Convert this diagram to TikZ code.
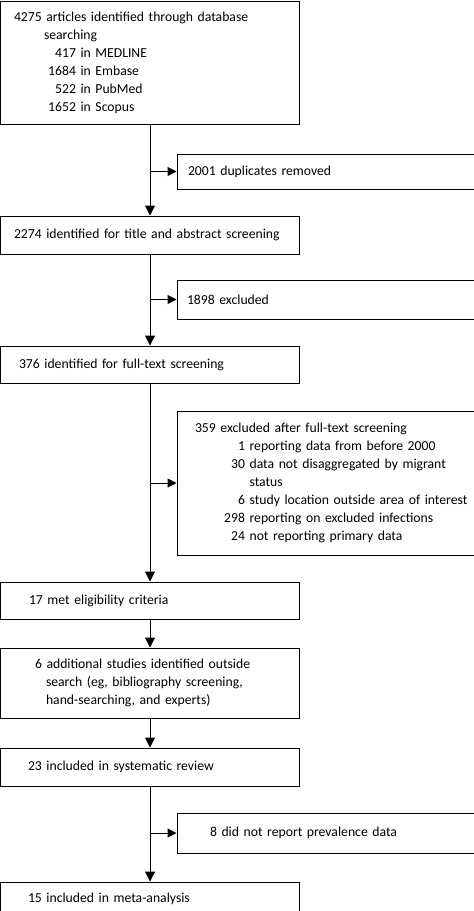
\documentclass[tikz,border=0pt]{standalone}
\usepackage{fontspec}
\setmainfont{Carlito}
\usepackage{tikz}
\usetikzlibrary{arrows.meta,positioning}

\begin{document}
\begin{tikzpicture}[
  x=1bp, y=1bp,
  node distance=91bp,
  box/.style={draw, line width=1bp, inner ysep=0pt, align=left,
              font=\fontsize{13.7bp}{18bp}\selectfont},
  lbox/.style={box, inner xsep=13bp, text width=272bp},
  rbox/.style={box, inner xsep=10bp, text width=279bp},
  arr/.style={-{Triangle[length=10bp, width=10bp]}, line width=1bp},
  sarr/.style={-{Triangle[length=9bp, width=9bp]}, line width=1bp},
]
\useasboundingbox (0,0) rectangle (474,-911);

% Main column
\node[lbox, minimum height=123bp, anchor=north west] (found) at (0.5,-0.5)
  {4275 articles identified through database\\
   \hspace*{30bp}searching\\
   \makebox[62bp][r]{417} in MEDLINE\\
   \makebox[62bp][r]{1684} in Embase\\
   \makebox[62bp][r]{522} in PubMed\\
   \makebox[62bp][r]{1652} in Scopus};
\node[lbox, minimum height=38bp, below=91bp of found] (screened)
  {2274 identified for title and abstract screening};
\node[lbox, minimum height=37bp, below=91bp of screened] (fulltext)
  {\hspace*{5bp}376 identified for full-text screening};
\node[lbox, minimum height=37bp, below=198bp of fulltext] (eligible)
  {\hspace*{15bp}17 met eligibility criteria};
\node[lbox, minimum height=70bp, below=28bp of eligible] (extra)
  {\hspace*{21bp}6 additional studies identified outside\\
   \hspace*{32bp}search (eg, bibliography screening,\\
   \hspace*{32bp}hand-searching, and experts)};
\node[lbox, minimum height=38bp, below=29bp of extra] (review)
  {\hspace*{14bp}23 included in systematic review};
\node[lbox, minimum height=34bp, below=95bp of review] (meta)
  {\hspace*{14bp}15 included in meta-analysis};

% Exclusions
\node[rbox, minimum height=35bp, below right=29bp and -123bp of found.south east] (dup)
  {\hspace*{1bp}2001 duplicates removed};
\node[rbox, minimum height=39bp, below right=25bp and -123bp of screened.south east] (excl)
  {1898 excluded};
\node[rbox, minimum height=144bp, below right=27bp and -123bp of fulltext.south east] (exclft)
  {\hspace*{8bp}\begin{tabular}{@{}l@{}}
   359 excluded after full-text screening\\
   \makebox[50bp][r]{1} reporting data from before 2000\\
   \makebox[50bp][r]{30} data not disaggregated by migrant\\
   \makebox[50bp]{} status\\
   \makebox[50bp][r]{6} study location outside area of interest\\
   \makebox[50bp][r]{298} reporting on excluded infections\\
   \makebox[50bp][r]{24} not reporting primary data
   \end{tabular}};
\node[rbox, minimum height=40bp, below right=26bp and -123bp of review.south east] (noprev)
  {\hspace*{23bp}8 did not report prevalence data};

\draw[arr] (found) -- (screened);
\draw[arr] (screened) -- (fulltext);
\draw[arr] (fulltext) -- (eligible);
\draw[arr] (eligible) -- (extra);
\draw[arr] (extra) -- (review);
\draw[arr] (review) -- (meta);
\draw[sarr] (found.south |- dup.west) -- (dup.west);
\draw[sarr] (screened.south |- excl.west) -- (excl.west);
\draw[sarr] (fulltext.south |- exclft.west) -- (exclft.west);
\draw[sarr] (review.south |- noprev.west) -- (noprev.west);
\end{tikzpicture}
\end{document}
